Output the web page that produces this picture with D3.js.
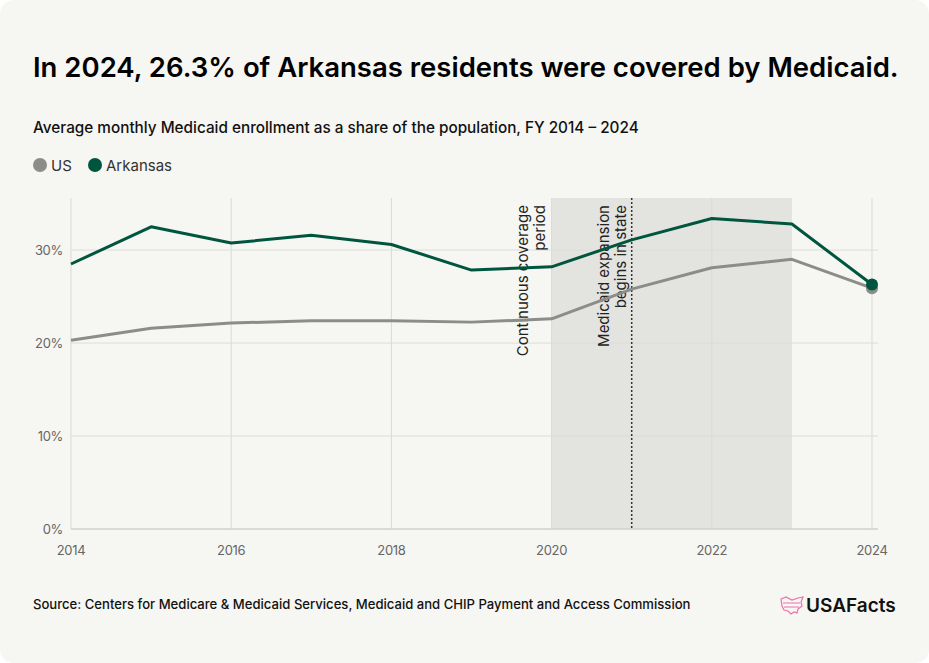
<!DOCTYPE html>
<html>
<head>
<meta charset="utf-8">
<script src="https://cdn.jsdelivr.net/npm/d3@7"></script>
<style>
  body { margin: 0; background: #ffffff; }
  svg { display: block; font-family: Inter, "Noto Sans", sans-serif; }
</style>
</head>
<body>
<div id="chart"></div>
<script>
// data
const years = [2014, 2015, 2016, 2017, 2018, 2019, 2020, 2021, 2022, 2023, 2024];
const usValues = [20.3, 21.6, 22.15, 22.4, 22.4, 22.25, 22.6, 25.8, 28.1, 29.0, 25.9];
const arkansasValues = [28.5, 32.5, 30.75, 31.6, 30.6, 27.85, 28.2, 31.1, 33.4, 32.8, 26.3];
const xTicks = [2014, 2016, 2018, 2020, 2022, 2024];
const yTicks = [0, 10, 20, 30];
const shadedPeriod = [2020, 2023];
const expansionYear = 2021;

const width = 929, height = 663;
const margin = { top: 198, right: 57, bottom: 134, left: 71 };
const innerW = width - margin.left - margin.right;
const innerH = height - margin.top - margin.bottom;

const colors = { us: "#8c8c88", ar: "#00553f" };

const svg = d3.select("#chart").append("svg")
  .attr("width", width)
  .attr("height", height);

// card background
svg.append("rect")
  .attr("x", 0).attr("y", 0)
  .attr("width", width).attr("height", height)
  .attr("rx", 14)
  .attr("fill", "#f6f6f2");

// title + subtitle
svg.append("text")
  .attr("x", 33).attr("y", 77)
  .attr("font-size", 27.5).attr("font-weight", 600)
  .attr("fill", "#000")
  .text("In 2024, 26.3% of Arkansas residents were covered by Medicaid.");

svg.append("text")
  .attr("x", 33).attr("y", 133)
  .attr("font-size", 15.3).attr("font-weight", 500)
  .attr("fill", "#111")
  .text("Average monthly Medicaid enrollment as a share of the population, FY 2014 \u2013 2024");

// legend
const legend = svg.append("g").attr("transform", "translate(40,165)");
const legendItems = [
  { label: "US", color: colors.us, x: 0 },
  { label: "Arkansas", color: colors.ar, x: 55 }
];
legendItems.forEach(d => {
  legend.append("circle").attr("cx", d.x).attr("cy", 0).attr("r", 7).attr("fill", d.color);
  legend.append("text")
    .attr("x", d.x + 11).attr("y", 5.5)
    .attr("font-size", 15).attr("fill", "#333")
    .text(d.label);
});

const g = svg.append("g")
  .attr("transform", `translate(${margin.left},${margin.top})`);

const x = d3.scaleLinear().domain([2014, 2024]).range([0, innerW]);
const y = d3.scaleLinear().domain([0, 35.6]).range([innerH, 0]);

// shaded continuous coverage period
g.append("rect")
  .attr("x", x(shadedPeriod[0]))
  .attr("y", 0)
  .attr("width", x(shadedPeriod[1]) - x(shadedPeriod[0]))
  .attr("height", innerH)
  .attr("fill", "#e3e3df");

// grid lines
g.append("g")
  .selectAll("line")
  .data(xTicks)
  .join("line")
  .attr("x1", d => x(d)).attr("x2", d => x(d))
  .attr("y1", 0).attr("y2", innerH)
  .attr("stroke", "#d9d9d5").attr("stroke-width", 1);

g.append("g")
  .selectAll("line")
  .data(yTicks)
  .join("line")
  .attr("x1", 0).attr("x2", innerW + 6)
  .attr("y1", d => y(d)).attr("y2", d => y(d))
  .attr("stroke", d => d === 0 ? "#d0d0cc" : "#dcdcd8")
  .attr("stroke-width", d => d === 0 ? 1.5 : 1);

// y tick labels
g.append("g")
  .selectAll("text")
  .data(yTicks)
  .join("text")
  .attr("x", -8).attr("y", d => y(d) + 4.5)
  .attr("text-anchor", "end")
  .attr("font-size", 13).attr("fill", "#666")
  .attr("letter-spacing", -0.3)
  .text(d => d + "%");

// x tick labels
g.append("g")
  .selectAll("text")
  .data(xTicks)
  .join("text")
  .attr("x", d => x(d)).attr("y", innerH + 26)
  .attr("text-anchor", "middle")
  .attr("font-size", 13).attr("fill", "#666")
  .attr("letter-spacing", -0.3)
  .text(d => d);

// expansion marker
g.append("line")
  .attr("x1", x(expansionYear)).attr("x2", x(expansionYear))
  .attr("y1", 0).attr("y2", innerH)
  .attr("stroke", "#333").attr("stroke-width", 1.5)
  .attr("stroke-dasharray", "2,2");

// annotations (rotated)
function annotate(xPos, lines) {
  const t = g.append("text")
    .attr("transform", `translate(${xPos},7) rotate(-90)`)
    .attr("text-anchor", "end")
    .attr("font-size", 15).attr("fill", "#222");
  lines.forEach((l, i) => {
    t.append("tspan").attr("x", 0).attr("dy", i === 0 ? 0 : 17.5).text(l);
  });
}
annotate(x(2020) - 24, ["Continuous coverage", "period"]);
annotate(x(2021) - 23, ["Medicaid expansion", "begins in state"]);

// lines
const line = d3.line()
  .x((d, i) => x(years[i]))
  .y(d => y(d));

const series = [
  { key: "us", values: usValues, color: colors.us },
  { key: "ar", values: arkansasValues, color: colors.ar }
];

series.forEach(s => {
  g.append("path")
    .datum(s.values)
    .attr("fill", "none")
    .attr("stroke", s.color)
    .attr("stroke-width", 3)
    .attr("stroke-linejoin", "round")
    .attr("d", line);
});

series.forEach(s => {
  const last = s.values.length - 1;
  g.append("circle")
    .attr("cx", x(years[last]))
    .attr("cy", y(s.values[last]))
    .attr("r", 6)
    .attr("fill", s.color);
});

// source
svg.append("text")
  .attr("x", 33).attr("y", 609)
  .attr("font-size", 13.1).attr("font-weight", 500)
  .attr("fill", "#111")
  .text("Source: Centers for Medicare & Medicaid Services, Medicaid and CHIP Payment and Access Commission");

// logo
const logo = svg.append("g").attr("transform", "translate(780,596)");
logo.append("path")
  .attr("d", "M1,3 L6,1 L12,4 L18,2 L23,1 L21,6 L22,10 L18,13 L17,17 L14,16 L11,18 L8,15 L4,14 L2,10 Z M3,7 L20,7 M4,11 L19,11")
  .attr("fill", "none")
  .attr("stroke", "#ef6fae")
  .attr("stroke-width", 1.2);
logo.append("text")
  .attr("x", 26).attr("y", 16)
  .attr("font-size", 19).attr("font-weight", 600)
  .attr("fill", "#111")
  .text("USAFacts");
</script>
</body>
</html>
